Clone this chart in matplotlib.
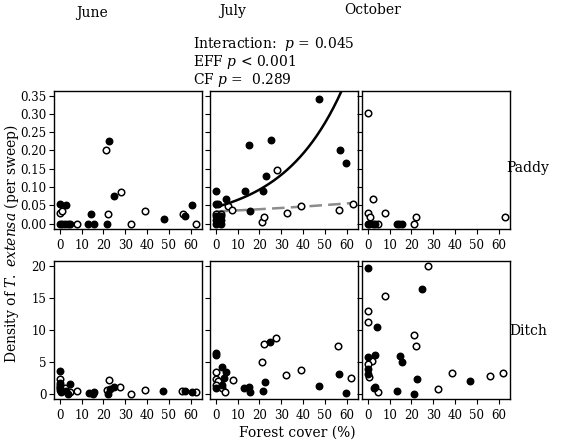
import matplotlib

matplotlib.use("Agg")
import matplotlib.pyplot as plt
import numpy as np

plt.rcParams["font.family"] = ["DejaVu Serif"]
plt.rcParams["mathtext.fontset"] = "dejavuserif"

MONTHS = ["June", "July", "October"]
HABITATS = ["Paddy", "Ditch"]
X_TICKS = [0, 10, 20, 30, 40, 50, 60]
PADDY_TICKS = [0.00, 0.05, 0.10, 0.15, 0.20, 0.25, 0.30, 0.35]
PADDY_TICKLABELS = ["0.00", "0.05", "0.10", "0.15", "0.20", "0.25", "0.30", "0.35"]
DITCH_TICKS = [0, 5, 10, 15, 20]

# Paddy, filled = EFF, open = CF
jun_paddy_eff_x = [0, 0, 1, 2.5, 3, 3.5, 4.5, 13, 14.5, 15.5, 21.5, 22.5, 25, 48, 57.5, 60.5]
jun_paddy_eff_y = [0.053, 0, 0, 0, 0.05, 0, 0, 0, 0.025, 0, 0, 0.225, 0.075, 0.012, 0.02, 0.05]
jun_paddy_cf_x = [0, 0.8, 8, 21, 22, 28, 32.5, 39, 56.5, 62.5]
jun_paddy_cf_y = [0.03, 0.035, 0, 0.2, 0.025, 0.087, 0, 0.035, 0.025, 0]

jul_paddy_eff_x = [0, 0, 0, 0, 0, 1, 2.5, 2.5, 2.5, 4.5, 13.5, 15.3, 15.5, 21.6, 23, 25.3, 47.5, 57, 59.7]
jul_paddy_eff_y = [0.09, 0.053, 0.02, 0.01, 0.0, 0.053, 0.02, 0.01, 0.0, 0.066,
                   0.09, 0.215, 0.033, 0.09, 0.131, 0.230, 0.341, 0.202, 0.165]
jul_paddy_cf_x = [0, 0.5, 2.3, 1.5, 5.4, 7.5, 21.3, 22.3, 28, 32.6, 39, 56.4, 62.8]
jul_paddy_cf_y = [0.027, 0.015, 0.027, 0.02, 0.049, 0.037, 0.003, 0.017, 0.147, 0.028, 0.049, 0.038, 0.053]

oct_paddy_eff_x = [0, 0.5, 2.5, 3.5, 13.5, 14.5, 15.5]
oct_paddy_eff_y = [0, 0, 0, 0, 0, 0, 0]
oct_paddy_cf_x = [0, 2.2, 0, 1, 4.5, 7.8, 21.2, 22.3, 62.8]
oct_paddy_cf_y = [0.302, 0.067, 0.029, 0.019, 0, 0.029, 0, 0.017, 0.017]

# Ditch
jun_ditch_eff_x = [0, 0, 0, 0, 0, 0.5, 3, 3.5, 4.5, 13.5, 15, 15.5, 22, 23, 25, 47.5, 57.5, 60.5]
jun_ditch_eff_y = [3.55, 1.7, 1.3, 0.9, 0.5, 0.2, 0.4, 0, 1.5, 0.1, 0, 0.2, 0, 0.7, 1.0, 0.42, 0.45, 0.3]
jun_ditch_cf_x = [0, 0, 2.3, 4.5, 8, 21.5, 22.5, 27.7, 32.5, 39, 56.2, 62.5]
jun_ditch_cf_y = [2.36, 1.0, 0.8, 0.2, 0.35, 0.6, 2.1, 1.05, 0, 0.63, 0.45, 0.3]

jul_ditch_eff_x = [0, 0, 2.75, 4.5, 3.5, 3, 0, 13.1, 15, 15.5, 21.5, 22.7, 25, 47.3, 56.6, 59.5]
jul_ditch_eff_y = [6.4, 6.0, 4.1, 3.4, 2.4, 1.3, 0.9, 0.8, 1.0, 0.2, 0.36, 1.87, 8.07, 1.2, 3.07, 0.1]
jul_ditch_cf_x = [0, 0, 1.2, 0, 3, 4.3, 7.8, 21, 22, 27.6, 32.4, 38.9, 56, 62.1]
jul_ditch_cf_y = [3.35, 2.3, 2.0, 1.4, 0.8, 0.3, 2.2, 5.0, 7.8, 8.75, 2.86, 3.7, 7.5, 2.5]

oct_ditch_eff_x = [0, 25, 4.4, 3.2, 0, 0, 0, 14.8, 15.5, 2.8, 3.2, 13.2, 21.3, 22.5, 47]
oct_ditch_eff_y = [19.7, 16.4, 10.4, 6.1, 5.7, 3.9, 3.0, 5.87, 4.9, 0.9, 1.0, 0.36, 0, 2.3, 2.0]
oct_ditch_cf_x = [27.7, 7.8, 0, 0, 21, 21.9, 2, 0, 0.5, 4.5, 32.3, 38.8, 55.9, 61.9]
oct_ditch_cf_y = [20.0, 15.3, 13.0, 11.3, 9.25, 7.4, 5.1, 4.7, 2.65, 0.3, 0.78, 3.27, 2.75, 3.17]

# July paddy fitted curves (log link): y = exp(b0 + b1 * x)
FIT_EFF = (np.log(0.045), 0.0362)
FIT_CF = (np.log(0.033), 0.0085)
FIT_XMAX = 63.5

PANELS = {
    ("Paddy", "June"): (jun_paddy_eff_x, jun_paddy_eff_y, jun_paddy_cf_x, jun_paddy_cf_y),
    ("Paddy", "July"): (jul_paddy_eff_x, jul_paddy_eff_y, jul_paddy_cf_x, jul_paddy_cf_y),
    ("Paddy", "October"): (oct_paddy_eff_x, oct_paddy_eff_y, oct_paddy_cf_x, oct_paddy_cf_y),
    ("Ditch", "June"): (jun_ditch_eff_x, jun_ditch_eff_y, jun_ditch_cf_x, jun_ditch_cf_y),
    ("Ditch", "July"): (jul_ditch_eff_x, jul_ditch_eff_y, jul_ditch_cf_x, jul_ditch_cf_y),
    ("Ditch", "October"): (oct_ditch_eff_x, oct_ditch_eff_y, oct_ditch_cf_x, oct_ditch_cf_y),
}

fig = plt.figure(figsize=(5.68, 4.45), dpi=100)

col_left = [0.0951, 0.3697, 0.6373]
col_w = 0.2605
row_bottom = {"Paddy": 0.4854, "Ditch": 0.1034}
row_h = 0.311

for hab in HABITATS:
    for j, month in enumerate(MONTHS):
        ax = fig.add_axes([col_left[j], row_bottom[hab], col_w, row_h])
        ex, ey, cx, cy = PANELS[(hab, month)]
        ax.scatter(cx, cy, s=22, facecolor="white", edgecolor="black", lw=1.1, zorder=3)
        ax.scatter(ex, ey, s=22, facecolor="black", edgecolor="black", lw=1.0, zorder=4)

        if hab == "Paddy" and month == "July":
            xs = np.linspace(0, FIT_XMAX, 200)
            ax.plot(xs, np.exp(FIT_CF[0] + FIT_CF[1] * xs), color="#8c8c8c",
                    lw=1.8, dashes=(5, 2.5), zorder=2)
            ax.plot(xs, np.exp(FIT_EFF[0] + FIT_EFF[1] * xs), color="black",
                    lw=1.8, zorder=5)

        ax.set_xlim(-2.7, 65.2)
        ax.set_xticks(X_TICKS)
        if hab == "Paddy":
            ax.set_ylim(-0.015, 0.364)
            ax.set_yticks(PADDY_TICKS)
            if j == 0:
                ax.set_yticklabels(PADDY_TICKLABELS)
        else:
            ax.set_ylim(-0.85, 20.9)
            ax.set_yticks(DITCH_TICKS)
        if j > 0:
            ax.tick_params(axis="y", labelleft=False)
        ax.tick_params(direction="out", length=3.5, width=0.8, labelsize=8.5, pad=2)
        ax.tick_params(axis="x", pad=4)
        for sp in ax.spines.values():
            sp.set_linewidth(1.0)

# Month headers
fig.text(92 / 568, 1 - 13 / 445, "June", ha="center", va="center", fontsize=10)
fig.text(233 / 568, 1 - 11 / 445, "July", ha="center", va="center", fontsize=10)
fig.text(373 / 568, 1 - 10 / 445, "October", ha="center", va="center", fontsize=10)

# Test results for July paddy
fig.text(193 / 568, 1 - 44 / 445, "Interaction:  $p$ = 0.045", ha="left", va="center", fontsize=10)
fig.text(193 / 568, 1 - 62 / 445, "EFF $p$ < 0.001", ha="left", va="center", fontsize=10)
fig.text(193 / 568, 1 - 80 / 445, "CF $p$ =  0.289", ha="left", va="center", fontsize=10)

# Row labels
fig.text(528 / 568, 1 - 168 / 445, "Paddy", ha="center", va="center", fontsize=10)
fig.text(528 / 568, 1 - 331 / 445, "Ditch", ha="center", va="center", fontsize=10)

fig.text(12 / 568, 1 - 244 / 445, r"Density of $\mathit{T.\ extensa}$ (per sweep)",
         rotation=90, ha="center", va="center", fontsize=10)
fig.text(297 / 568, 1 - 433 / 445, "Forest cover (%)", ha="center", va="center", fontsize=10)

fig.savefig("out.png", dpi=100)
